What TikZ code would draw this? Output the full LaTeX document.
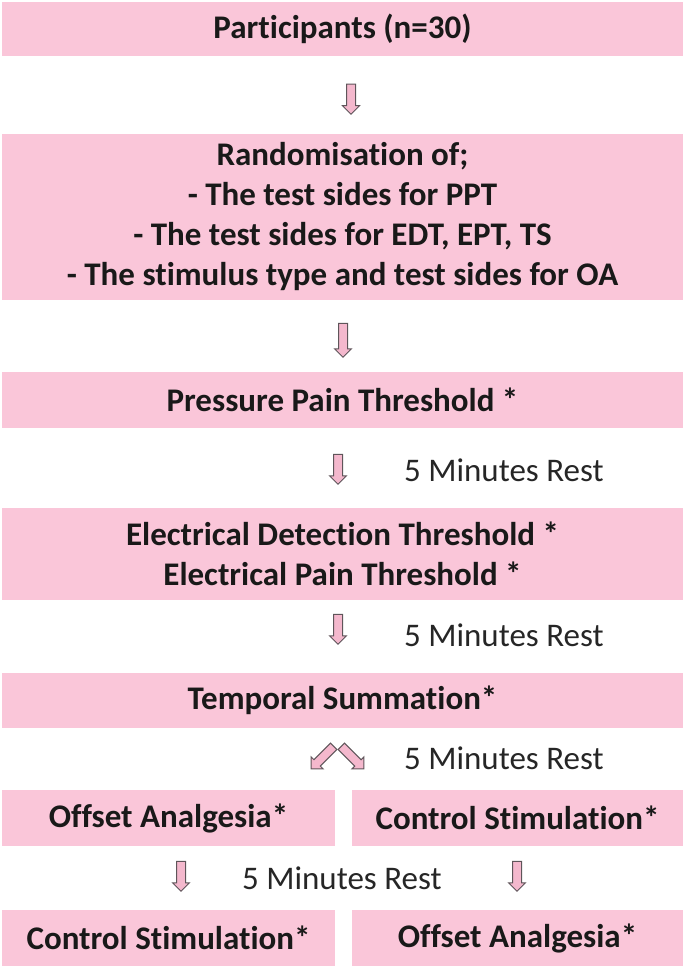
\documentclass[tikz,border=0pt]{standalone}
\usepackage{fontspec}
\setmainfont{Carlito}[Ligatures={NoCommon}]
\usetikzlibrary{arrows.meta, positioning, shapes.arrows}
\definecolor{boxpink}{RGB}{250,198,217}
\definecolor{arrowpink}{RGB}{244,184,205}
\definecolor{arrowline}{RGB}{95,85,90}

\begin{document}
\begin{tikzpicture}[x=1pt, y=-1pt,
  stagebox/.style={fill=boxpink, draw=none, rectangle, align=center, inner sep=0pt, text=black!90, font=\fontsize{33}{40}\selectfont\bfseries},
  downarrow/.style={single arrow, draw=arrowline, fill=arrowpink, line width=1pt, minimum height=30pt, inner sep=4pt, single arrow head extend=4pt, shape border rotate=270},
  restnote/.style={anchor=west, inner sep=0pt, text=black!85, font=\fontsize{33}{38}\selectfont}]
  \useasboundingbox (0,0) rectangle (685,968);

  \node[stagebox, minimum width=681pt, minimum height=54pt] (part) at (342.5,29) {Participants (n=30)};
  \node[stagebox, minimum width=681pt, minimum height=166pt] (rand) at (342.5,217) {Randomisation of;\\- The test sides for PPT\\- The test sides for EDT, EPT, TS\\- The stimulus type and test sides for OA};
  \node[stagebox, minimum width=681pt, minimum height=56pt] (ppt) at (342.5,400) {Pressure Pain Threshold *};
  \node[stagebox, minimum width=681pt, minimum height=92pt] (elec) at (342.5,554) {Electrical Detection Threshold *\\Electrical Pain Threshold *};
  \node[stagebox, minimum width=681pt, minimum height=55pt] (temp) at (342.5,700.5) {Temporal Summation*};
  \node[stagebox, minimum width=333pt, minimum height=56pt] (oaA) at (168.5,818) {Offset Analgesia*};
  \node[stagebox, minimum width=331pt, minimum height=56pt] (csA) at (517.5,818) {Control Stimulation*};
  \node[stagebox, minimum width=333pt, minimum height=56pt] (csB) at (168.5,938) {Control Stimulation*};
  \node[stagebox, minimum width=331pt, minimum height=56pt] (oaB) at (517.5,938) {Offset Analgesia*};

  % block arrows between the stages
  \node[downarrow] (arr1) at (351,97) {};
  \node[downarrow, minimum height=34pt] (arr2) at (343,338) {};
  \node[downarrow] (arr3) at (338,467) {};
  \node[downarrow] (arr4) at (338,627) {};
  \node[downarrow, minimum height=32pt, rotate=-45] (arr5a) at (324,756) {};
  \node[downarrow, minimum height=32pt, rotate=45] (arr5b) at (351,756) {};
  \node[downarrow] (arr6a) at (181,874) {};
  \node[downarrow] (arr6b) at (517,874) {};

  \node[restnote] (rest1) at (404,470) {5 Minutes Rest};
  \node[restnote] (rest2) at (404,635) {5 Minutes Rest};
  \node[restnote] (rest3) at (404,758) {5 Minutes Rest};
  \node[restnote] (rest4) at (242,878) {5 Minutes Rest};
\end{tikzpicture}
\end{document}
